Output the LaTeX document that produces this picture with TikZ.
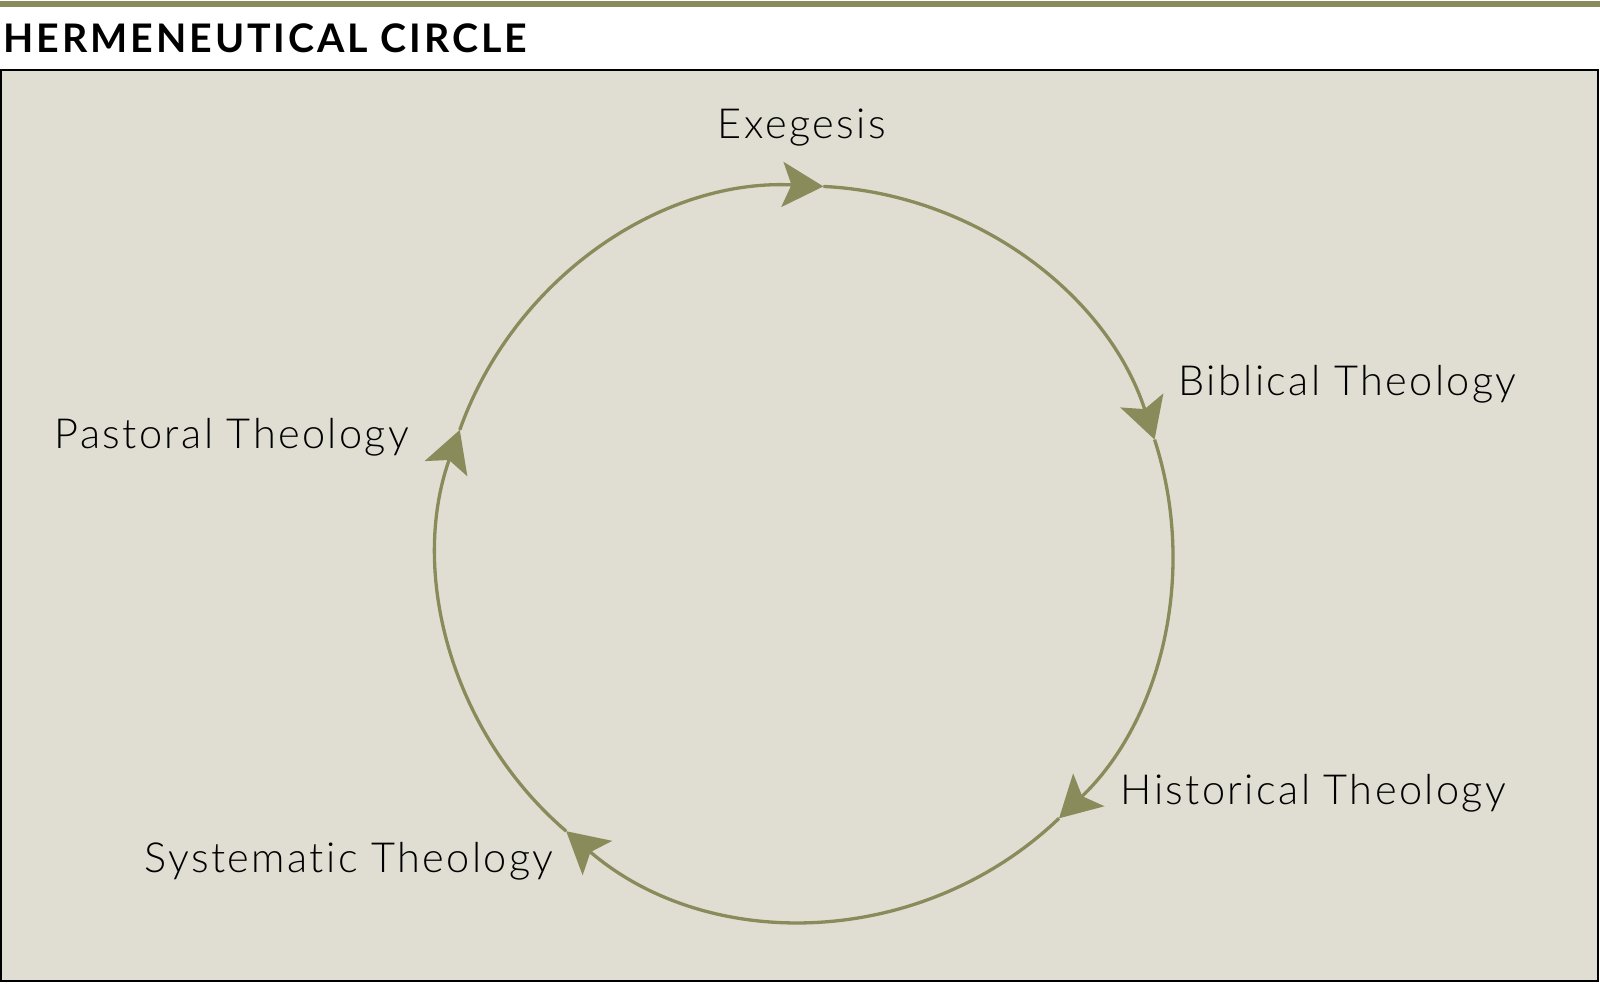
\documentclass[tikz,border=0pt]{standalone}
\usepackage{fontspec}
\usepackage{xcolor}
\usetikzlibrary{arrows.meta, calc}
\setmainfont{Lato}
\newfontfamily\stagefont{Lato}[UprightFont={* Light}, LetterSpace=5.8, Ligatures={NoCommon}]
\newfontfamily\headfont{Lato}[UprightFont={* Bold}, LetterSpace=7.4, Ligatures={NoCommon}]
\definecolor{circleOlive}{RGB}{138, 139, 90}
\definecolor{circleBeige}{RGB}{224, 222, 211}

\begin{document}
\begin{tikzpicture}[x=0.1mm, y=0.1mm,
    stage/.style={anchor=base west, inner sep=0pt, text=black,
        font=\stagefont\fontsize{11.8pt}{14pt}\selectfont},
    flow/.style={draw=circleOlive, line width=0.33mm,
        -{Stealth[length=4.1mm, width=4.5mm, inset=0.9mm]}}]
    \useasboundingbox (0,0) rectangle (1600,984);
    % heading
    \fill[circleOlive] (0,976.5) rectangle (1600,983);
    \node[anchor=base west, inner sep=0pt, font=\headfont\fontsize{11.2pt}{13pt}\selectfont] (heading) at (3,931) {HERMENEUTICAL CIRCLE};
    \draw[line width=0.2mm, fill=circleBeige] (1.5,2.5) rectangle (1597.5,913.5);

    % points on the circle
    \coordinate (hub) at (805.5,431);
    \coordinate (exegesis) at ($(hub)+(87.2:367)$);
    \coordinate (biblical) at ($(hub)+(18:367)$);
    \coordinate (historical) at ($(hub)+(-46.3:367)$);
    \coordinate (systematic) at ($(hub)+(-130.7:367)$);
    \coordinate (pastoral) at ($(hub)+(160.4:367)$);

    % the circle, clockwise
    \draw[flow] (pastoral) arc[start angle=160.4, end angle=87.2, radius=36.7mm];
    \draw[flow] (exegesis) arc[start angle=87.2, end angle=18, radius=36.7mm];
    \draw[flow] (biblical) arc[start angle=18, end angle=-46.3, radius=36.7mm];
    \draw[flow] (historical) arc[start angle=-46.3, end angle=-130.7, radius=36.7mm];
    \draw[flow] (systematic) arc[start angle=-130.7, end angle=-199.6, radius=36.7mm];

    % labels
    \node[stage] (exegesisText) at (717,845) {Exegesis};
    \node[stage] (biblicalText) at (1178,588) {Biblical Theology};
    \node[stage] (historicalText) at (1120,179) {Historical Theology};
    \node[stage] (systematicText) at (144,111) {Systematic Theology};
    \node[stage] (pastoralText) at (54,535) {Pastoral Theology};
\end{tikzpicture}
\end{document}
